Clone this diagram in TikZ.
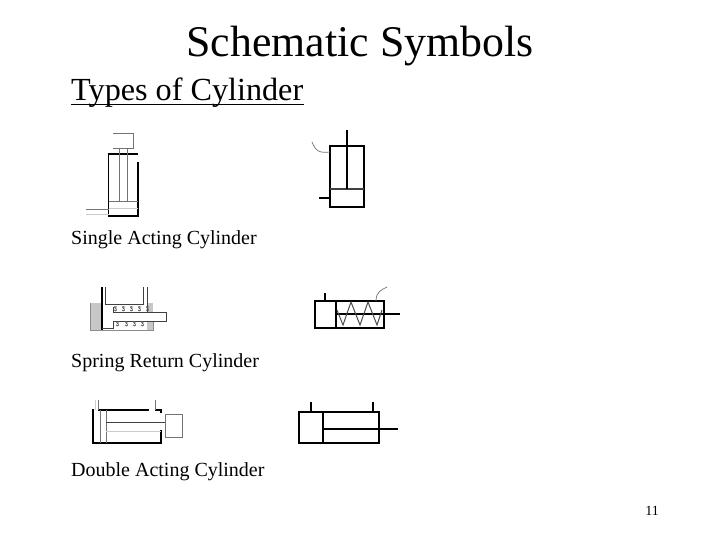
\documentclass[tikz,border=0pt]{standalone}
\usepackage{fontspec}
\setmainfont{Liberation Serif}
\tikzset{
  x=1pt, y=-1pt,
  title/.style     = {anchor=base, inner sep=0, font=\fontsize{43.8}{44}\selectfont},
  subtitle/.style  = {anchor=base west, inner sep=0, font=\fontsize{32.2}{32}\selectfont},
  caption/.style   = {anchor=base west, inner sep=0, font=\fontsize{20}{20}\selectfont},
  heavy/.style     = {draw=black, line width=2.2pt},
  photo/.style     = {draw=black, line width=1.7pt},
  medium/.style    = {draw=black!75, line width=.9pt},
  thin line/.style = {draw=black!55, line width=1pt},
  faint/.style     = {draw=black!20, line width=.8pt},
  coil/.style      = {draw=black!65, line width=.8pt}
}
\begin{document}
\begin{tikzpicture}
  \useasboundingbox (0,0) rectangle (720,540);
  \fill[white] (0,0) rectangle (720,540);

  \node [title] (head) at (360,57) {Schematic Symbols};
  \node [subtitle] (types) at (71,101) {Types of Cylinder};
  \draw[line width=1.4pt] (71,104.5) -- (304,104.5);
  \node [caption] (single) at (71,244) {Single Acting Cylinder};
  \node [caption] (spring) at (71,367) {Spring Return Cylinder};
  \node [caption] (double) at (71,476) {Double Acting Cylinder};
  \node [anchor=base east, inner sep=0, font=\fontsize{14}{14}\selectfont] (page) at (659,515) {11};

  % single acting, picture
  \draw[photo] (138,154) -- (108.5,154) -- (108.5,216) -- (138,216) -- (138,162);
  \draw[thin line] (113,134) -- (133,134) -- (133,149) -- (113,149);
  \draw[thin line] (119.5,149) -- (119.5,202) (127,149) -- (127,202);
  \draw[thin line] (108.5,202) -- (138,202);
  \draw[faint] (108.5,208) -- (138,208);
  \draw[thin line] (86,210) -- (108.5,210);
  \draw[faint] (86,214) -- (108.5,214);

  % single acting, symbol
  \draw[heavy] (330,146) rectangle (364,207);
  \draw[medium, line width=1.2pt] (330,189) -- (364,189);
  \draw[heavy] (347,130) -- (347,189);
  \draw[heavy] (319,198) -- (330,198);
  \draw[thin line, line width=.7pt] (312,142) .. controls (316,152) and (320,153) .. (330,152);

  % spring return, picture
  \fill[black!22] (90,303) rectangle (102,330);
  \fill[black!22] (147,303) rectangle (153,312);
  \fill[black!22] (147,321) rectangle (153,330);
  \draw[black!45, line width=.8pt] (90,303) -- (90,330) -- (153,330) -- (153,321);
  \draw[photo] (102,287) -- (102,330);
  \draw[medium] (105,287) -- (105,304) -- (143,304) -- (143,287);
  \draw[medium] (147,287) -- (147,312);
  \draw[medium] (102,328) -- (113,328) -- (113,321) -- (166,321) -- (166,312) -- (113,312) -- (113,307);
  \foreach \sx in {116,124,132,140,148} {
    \draw[coil] (\sx-2,310) .. controls (\sx+1,313) and (\sx+1,308) .. (\sx-1,308) .. controls (\sx-3,308) and (\sx-1,305) .. (\sx+1,307);
  }
  \foreach \sx in {118,127,135,143} {
    \draw[coil] (\sx-2,325) .. controls (\sx+1,328) and (\sx+1,323) .. (\sx-1,323) .. controls (\sx-3,323) and (\sx-1,320) .. (\sx+1,322);
  }

  % spring return, symbol
  \draw[heavy] (315,301) rectangle (384,328);
  \draw[heavy] (336,301) -- (336,328);
  \draw[heavy] (325,293) -- (325,301);
  \draw[medium, draw=black, line width=1.6pt] (336,314) -- (400,314);
  \draw[draw=black!70, line width=1pt] (337,310) -- (343,325) -- (351,302) -- (360,325) -- (368,302) -- (377,325) -- (382,310);
  \draw[thin line, line width=.7pt] (376,301) .. controls (376,292) and (381,290) .. (387,287);

  % double acting, picture
  \draw[photo] (98,410) -- (149,410);
  \draw[photo] (155,410) -- (161,410) -- (161,413);
  \draw[photo] (93,409) -- (93,443) -- (161,443) -- (161,430);
  \draw[thin line] (100,410) -- (100,443) (106,410) -- (106,443);
  \draw[faint] (95,400) -- (95,410);
  \draw[thin line] (98,400) -- (98,410) (155,400) -- (155,410);
  \draw[medium] (106,422) -- (165,422);
  \draw[faint] (106,431) -- (161,431);
  \draw[thin line] (165,414) rectangle (182,437);

  % double acting, symbol
  \draw[heavy] (299,412) rectangle (379,443);
  \draw[heavy, line width=2.6pt] (323,412) -- (323,443);
  \draw[medium, draw=black, line width=1.6pt] (323,429) -- (398,429);
  \draw[heavy, line width=1.6pt] (311,402) -- (311,412);
  \draw[heavy, line width=1.6pt] (373,402) -- (373,412);
\end{tikzpicture}
\end{document}
